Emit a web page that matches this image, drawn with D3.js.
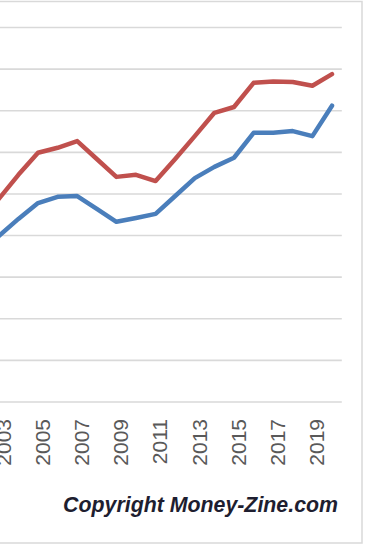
<!DOCTYPE html>
<html>
<head>
<meta charset="utf-8">
<script src="https://cdn.jsdelivr.net/npm/d3@7"></script>
<style>
  html, body { margin: 0; padding: 0; background: #fff; }
  svg { display: block; }
</style>
</head>
<body>
<div id="container"></div>
<script>
/* DATA */
var years = [2003, 2004, 2005, 2006, 2007, 2008, 2009, 2010, 2011, 2012, 2013, 2014, 2015, 2016, 2017, 2018, 2019, 2020]
var redSeries = [48.8, 54.6, 59.9, 61.1, 62.7, 58.4, 54.1, 54.6, 53.1, 58.4, 63.9, 69.5, 70.9, 76.7, 77.0, 76.9, 76.0, 78.8]
var blueSeries = [39.9, 44.0, 47.8, 49.3, 49.5, 46.4, 43.3, 44.2, 45.2, 49.5, 53.8, 56.5, 58.7, 64.7, 64.7, 65.1, 63.9, 71.2]
var yTicks = [0, 10, 20, 30, 40, 50, 60, 70, 80, 90]
var tickLabels = ['2003', '2005', '2007', '2009', '2011', '2013', '2015', '2017', '2019']
var copyright = 'Copyright Money-Zine.com'

/* SET UP */
var width = 367
var height = 545
var colors = { red: '#c0504d', blue: '#4a7ebb', grid: '#d9d9d9', label: '#595959', note: '#1e1e30' }

var svg = d3.select('#container')
    .append('svg')
    .attr('width', width)
    .attr('height', height)

// chart frame (left side cropped away)
svg.append('rect')
    .attr('x', -10).attr('y', 1.5)
    .attr('width', 372).attr('height', 541.5)
    .attr('fill', '#fff')
    .attr('stroke', colors.grid)
    .attr('stroke-width', 1.5)

var x = d3.scalePoint()
    .domain(years)
    .range([-1.2, 332])

var y = d3.scaleLinear()
    .domain([0, 90])
    .range([402, 27.5])

var step = x.step()
var plotLeft = x(years[0]) - step / 2
var plotRight = x(years[years.length - 1]) + step / 2

// gridlines
svg.append('g')
    .selectAll('line')
    .data(yTicks)
    .enter()
    .append('line')
    .attr('x1', plotLeft - 20)
    .attr('x2', plotRight)
    .attr('y1', function(d) { return y(d) })
    .attr('y2', function(d) { return y(d) })
    .attr('stroke', colors.grid)
    .attr('stroke-width', 1.6)

// lines
var line = d3.line()
    .x(function(d, i) { return x(years[i]) })
    .y(function(d) { return y(d) })

svg.append('path')
    .datum(blueSeries)
    .attr('d', line)
    .attr('fill', 'none')
    .attr('stroke', colors.blue)
    .attr('stroke-width', 4.5)
    .attr('stroke-linejoin', 'round')
    .attr('stroke-linecap', 'round')

svg.append('path')
    .datum(redSeries)
    .attr('d', line)
    .attr('fill', 'none')
    .attr('stroke', colors.red)
    .attr('stroke-width', 4.5)
    .attr('stroke-linejoin', 'round')
    .attr('stroke-linecap', 'round')

// x tick labels, rotated
svg.append('g')
    .selectAll('text')
    .data(tickLabels)
    .enter()
    .append('text')
    .attr('transform', function(d) { return 'translate(' + (x(+d) + 4.5) + ',419) rotate(-90)' })
    .attr('text-anchor', 'end')
    .attr('dy', '0.35em')
    .style('font-family', 'Liberation Sans, Arial, sans-serif')
    .style('font-size', '21px')
    .style('fill', colors.label)
    .text(function(d) { return d })

// copyright note
var note = svg.append('text')
    .attr('x', 338)
    .attr('y', 512)
    .attr('text-anchor', 'end')
    .style('font-family', 'Liberation Sans, Arial, sans-serif')
    .style('font-weight', 'bold')
    .style('font-style', 'italic')
    .style('font-size', '20px')
    .style('fill', colors.note)
    .text(copyright)

var w = note.node().getComputedTextLength()
note.style('font-size', (20 * 275 / w) + 'px')
</script>
</body>
</html>
